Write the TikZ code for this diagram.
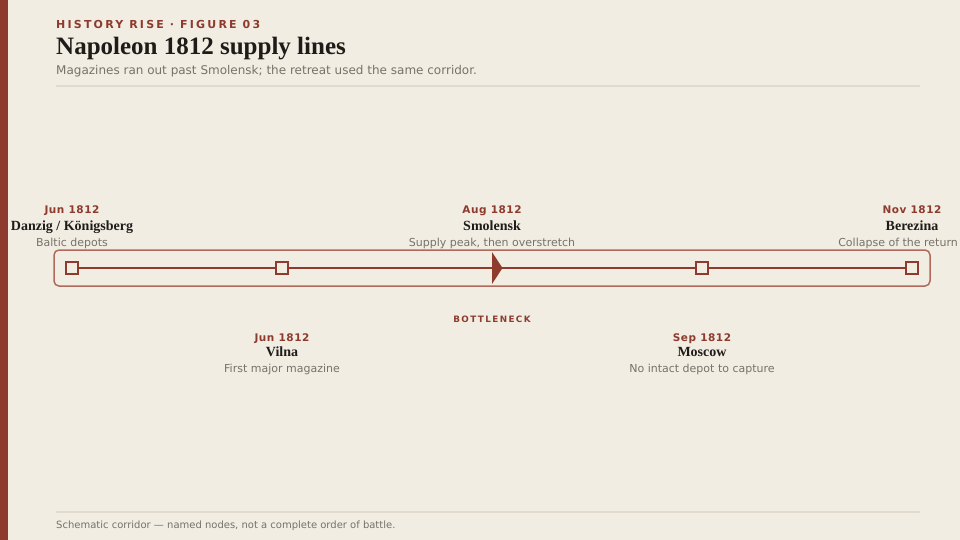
\documentclass[tikz,border=0pt]{standalone}
\usepackage{fontspec}
\setmainfont{DejaVu Sans}
\newfontfamily\seriffont{Liberation Serif}
\newfontfamily\spacedfont[LetterSpace=20]{DejaVu Sans}
\newfontfamily\datefont[LetterSpace=5]{DejaVu Sans}
\newfontfamily\capfont[LetterSpace=16]{DejaVu Sans}
\definecolor{bg}{HTML}{F2EDE3}
\definecolor{rust}{HTML}{8E3B2E}
\definecolor{rustlight}{HTML}{B06A5C}
\definecolor{rulec}{HTML}{E2DBCD}
\definecolor{ink}{HTML}{1E1C19}
\definecolor{muted}{HTML}{77726A}
\tikzset{
  kicker/.style={anchor=base west, inner sep=0, text=rust, font=\spacedfont\bfseries\fontsize{11}{13}\selectfont},
  titletext/.style={anchor=base west, inner sep=0, text=ink, font=\seriffont\bfseries\fontsize{25}{28}\selectfont},
  subtext/.style={anchor=base west, inner sep=0, text=muted, font=\fontsize{12}{15}\selectfont},
  foot/.style={anchor=base west, inner sep=0, text=muted, font=\fontsize{10}{12}\selectfont},
  datelbl/.style={anchor=base, inner sep=0, text=rust, font=\datefont\bfseries\fontsize{10.5}{13}\selectfont},
  namelbl/.style={anchor=base, inner sep=0, text=ink, font=\seriffont\bfseries\fontsize{14}{16}\selectfont},
  desclbl/.style={anchor=base, inner sep=0, text=muted, font=\fontsize{11}{14}\selectfont},
  caplbl/.style={anchor=base, inner sep=0, text=rust, font=\capfont\bfseries\fontsize{8.8}{11}\selectfont},
  stopbox/.style={draw=rust, fill=bg, line width=2pt, minimum size=12pt, inner sep=0, rectangle},
  rulel/.style={draw=rulec, line width=2pt},
  track/.style={draw=rust, line width=2pt},
}
\begin{document}
\begin{tikzpicture}[x=1pt,y=-1pt]
\useasboundingbox (0,0) rectangle (960,540);
\fill[bg] (0,0) rectangle (960,540);
\fill[rust] (0,0) rectangle (8,540);

\node[kicker] (kick) at (56,28.5) {HISTORY RISE · FIGURE 03};
\node[titletext] (title) at (56,55) {Napoleon 1812 supply lines};
\node[subtext] (sub) at (56,74.5) {Magazines ran out past Smolensk; the retreat used the same corridor.};
\coordinate (r1a) at (56,86); \coordinate (r1b) at (920,86);
\draw[rulel] (r1a) -- (r1b);

% corridor frame
\node[draw=rustlight, line width=1.5pt, rounded corners=5pt, minimum width=876pt, minimum height=36pt, inner sep=0] (frame) at (492,268) {};

% stops
\node[stopbox] (s1) at (72,268) {};
\node[stopbox] (s2) at (282,268) {};
\coordinate (s3) at (492,268);
\node[stopbox] (s4) at (702,268) {};
\node[stopbox] (s5) at (912,268) {};
\draw[track] (s1) -- (s2);
\draw[track] (s2) -- (s3);
\draw[track] (s3) -- (s4);
\draw[track] (s4) -- (s5);
\fill[rust] (492,252) -- (502.5,268) -- (492,284) -- cycle;

% labels above
\node[datelbl] (d1) at (72,213) {Jun 1812};
\node[namelbl] (n1) at (72,230) {Danzig / Königsberg};
\node[desclbl] (e1) at (72,246) {Baltic depots};

\node[datelbl] (d3) at (492,213) {Aug 1812};
\node[namelbl] (n3) at (492,230) {Smolensk};
\node[desclbl] (e3) at (492,246) {Supply peak, then overstretch};

\node[datelbl] (d5) at (912,213) {Nov 1812};
\node[namelbl] (n5) at (912,230) {Berezina};
\node[desclbl, anchor=base east] (e5) at (958,246) {Collapse of the return};

% labels below
\node[caplbl] (bn) at (492,322) {BOTTLENECK};

\node[datelbl] (d2) at (282,341) {Jun 1812};
\node[namelbl] (n2) at (282,356) {Vilna};
\node[desclbl] (e2) at (282,372) {First major magazine};

\node[datelbl] (d4) at (702,341) {Sep 1812};
\node[namelbl] (n4) at (702,356) {Moscow};
\node[desclbl] (e4) at (702,372) {No intact depot to capture};

% footer
\coordinate (r2a) at (56,512); \coordinate (r2b) at (920,512);
\draw[rulel] (r2a) -- (r2b);
\node[foot] (ft) at (56,528) {Schematic corridor — named nodes, not a complete order of battle.};
\end{tikzpicture}
\end{document}
